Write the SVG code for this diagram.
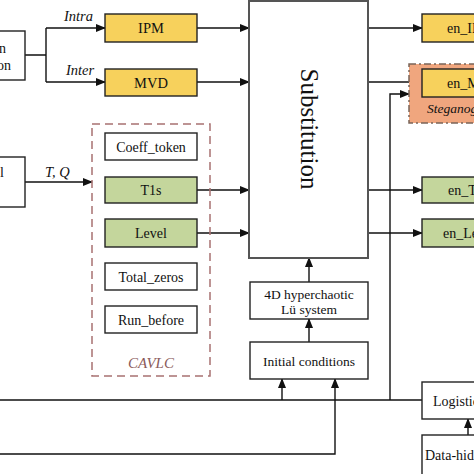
<svg xmlns="http://www.w3.org/2000/svg" width="474" height="474" viewBox="0 0 474 474">
<defs>
<marker id="ah" markerUnits="userSpaceOnUse" markerWidth="10" markerHeight="8" refX="9" refY="4" orient="auto">
<path d="M0,0 L10,4 L0,8 Z" fill="#111"/>
</marker>
<style>
.b{fill:#fff;stroke:#222;stroke-width:1.4}
.y{fill:#f7d15c;stroke:#222;stroke-width:1.4}
.g{fill:#c4d69c;stroke:#222;stroke-width:1.4}
.t{font-family:"Liberation Serif","Times New Roman",serif;font-size:14px;fill:#111;text-anchor:middle;dominant-baseline:central}
.i{font-family:"Liberation Serif","Times New Roman",serif;font-size:14.5px;font-style:italic;fill:#111}
.l{fill:none;stroke:#111;stroke-width:1.4}
.a{fill:none;stroke:#111;stroke-width:1.4;marker-end:url(#ah)}
</style>
</defs>
<rect width="474" height="474" fill="#fff"/>

<g id="connectors">
<path class="l" d="M25,55 H46 M46,28 V82"/>
<path class="a" d="M46,28 H105"/>
<path class="a" d="M46,82 H105"/>
<path class="a" d="M25,182 H92"/>
<path class="a" d="M197,28 H249"/>
<path class="a" d="M197,82 H249"/>
<path class="a" d="M197,190 H249"/>
<path class="a" d="M197,233 H249"/>
<path class="a" d="M368,28 H422"/>
<path class="a" d="M368,82 H422"/>
<path class="a" d="M368,190 H422"/>
<path class="a" d="M368,233 H422"/>
<path class="l" d="M0,400 H422"/>
<path class="a" d="M390,400 V94 H409"/>
<path class="a" d="M282,400 V379"/>
<path class="a" d="M0,454 H335 V379"/>
<path class="a" d="M309,342 V319"/>
<path class="a" d="M309,282 V258"/>
<path class="a" d="M468,435 V419"/>
<text class="i" x="64" y="21">Intra</text>
<text class="i" x="66" y="75">Inter</text>
<text class="i" x="45" y="177">T, Q</text>
</g>

<g id="pred">
<rect class="b" x="-5" y="31" width="30" height="49"/>
<text class="t" x="6" y="48" style="text-anchor:end">n</text>
<text class="t" x="11" y="65" style="text-anchor:end">on</text>
</g>
<g id="tq">
<rect class="b" x="-5" y="157" width="30" height="50"/>
<text class="t" x="4" y="172" style="text-anchor:end">l</text>
</g>

<g id="ipm"><rect class="y" x="105" y="14" width="92" height="28"/><text class="t" x="151" y="28" style="font-size:14.5px">IPM</text></g>
<g id="mvd"><rect class="y" x="105" y="69" width="92" height="27"/><text class="t" x="151" y="83" style="font-size:14.5px">MVD</text></g>

<g id="cavlc">
<rect x="92" y="124" width="118" height="252" fill="none" stroke="#a87272" stroke-width="1.5" stroke-dasharray="8,5"/>
<text class="i" x="151" y="368" text-anchor="middle" style="fill:#8a5a5a;font-size:15px">CAVLC</text>
</g>
<g id="coeff"><rect class="b" x="105" y="133" width="92" height="27"/><text class="t" x="151" y="147">Coeff_token</text></g>
<g id="t1s"><rect class="g" x="105" y="177" width="92" height="26"/><text class="t" x="151" y="190">T1s</text></g>
<g id="level"><rect class="g" x="105" y="219" width="92" height="28"/><text class="t" x="151" y="233">Level</text></g>
<g id="total"><rect class="b" x="105" y="263" width="92" height="27"/><text class="t" x="151" y="277">Total_zeros</text></g>
<g id="run"><rect class="b" x="105" y="306" width="92" height="27"/><text class="t" x="151" y="320">Run_before</text></g>

<g id="subst">
<rect x="249" y="1" width="119" height="257" fill="#fff" stroke="#555" stroke-width="2"/>
<text x="309" y="129" transform="rotate(90 309 129)" style="font-family:'Liberation Serif','Times New Roman',serif;font-size:25px;fill:#111;text-anchor:middle;dominant-baseline:central">Substitution</text>
</g>

<g id="lu"><rect class="b" x="250" y="282" width="118" height="37"/><text class="t" x="309" y="294" style="font-size:13.5px">4D hyperchaotic</text><text class="t" x="309" y="309" style="font-size:13.5px">Lü  system</text></g>
<g id="init"><rect class="b" x="250" y="342" width="118" height="37"/><text class="t" x="309" y="361" style="font-size:13.5px">Initial conditions</text></g>

<g id="enipm"><rect class="y" x="422" y="14" width="60" height="28"/><text class="t" x="447" y="28" style="text-anchor:start">en_IPM</text></g>
<g id="steg">
<rect x="409" y="64" width="70" height="59" fill="#f0a67e" stroke="#7a6458" stroke-width="1.5" stroke-dasharray="7,3,2,3"/>
<rect class="y" x="422" y="69" width="60" height="28"/><text class="t" x="447" y="83" style="text-anchor:start">en_MVD</text>
<text class="i" x="427" y="113" style="font-size:13.5px">Steganography</text>
</g>
<g id="ent1s"><rect class="g" x="422" y="177" width="60" height="26"/><text class="t" x="448" y="190" style="text-anchor:start">en_T1s</text></g>
<g id="enlevel"><rect class="g" x="422" y="219" width="60" height="28"/><text class="t" x="443" y="233" style="text-anchor:start">en_Level</text></g>
<g id="logistic"><rect class="b" x="422" y="382" width="60" height="37"/><text class="t" x="433" y="401" style="text-anchor:start">Logistic</text></g>
<g id="datahid"><rect class="b" x="422" y="435" width="60" height="50"/><text class="t" x="425" y="455" style="text-anchor:start">Data-hiding</text></g>
</svg>
